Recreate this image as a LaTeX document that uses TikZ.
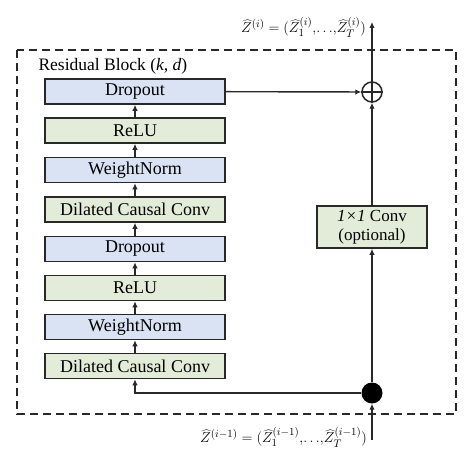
\documentclass[tikz,border=0pt]{standalone}
\usepackage{fontspec}
\setmainfont{Liberation Serif}
\usetikzlibrary{arrows.meta}
\definecolor{bblue}{RGB}{218,227,243}
\definecolor{bgreen}{RGB}{227,236,216}
\definecolor{edge}{RGB}{40,40,40}
\tikzset{
  layer/.style={draw=edge, line width=1.6pt, minimum width=180pt, minimum height=25pt, inner sep=0pt, font=\fontsize{18}{20}\selectfont},
  bluebox/.style={layer, fill=bblue},
  greenbox/.style={layer, fill=bgreen},
  conn/.style={draw=edge, line width=1.4pt, -{Latex[length=6pt,width=5.5pt]}},
  mathlab/.style={anchor=east, font=\fontsize{15.5}{17}\selectfont, inner sep=0pt},
}
\begin{document}
\begin{tikzpicture}[x=1pt,y=-1pt]
\useasboundingbox (0,0) rectangle (474,465);
\draw[edge, line width=1.3pt, dash pattern=on 8pt off 5pt] (17,50) rectangle (456,414);
\node[anchor=west, font=\fontsize{17.5}{20}\selectfont] (title) at (35,66) {Residual Block (\textit{k}, \textit{d})};
\node[bluebox]  (do1) at (135,91.5) {Dropout};
\node[greenbox] (re1) at (135,130.5) {ReLU};
\node[bluebox]  (wn1) at (135,170) {WeightNorm};
\node[greenbox] (dc1) at (135,209.5) {Dilated Causal Conv};
\node[bluebox]  (do2) at (135,249) {Dropout};
\node[greenbox] (re2) at (135,288) {ReLU};
\node[bluebox]  (wn2) at (135,327) {WeightNorm};
\node[greenbox] (dc2) at (135,366) {Dilated Causal Conv};
\node[greenbox, minimum width=110pt, minimum height=42pt, align=center, font=\fontsize{17}{19}\selectfont] (c11) at (372,227) {\textit{1×1} Conv\\(optional)};
\node[circle, draw=edge, line width=1.5pt, minimum size=20pt, inner sep=0pt] (add) at (372,92) {};
\draw[edge, line width=1.5pt] (add.north) -- (add.south) (add.west) -- (add.east);
\node[circle, fill=black, minimum size=21pt, inner sep=0pt] (dot) at (372,393) {};
\coordinate (out) at (372,22);
\coordinate (in) at (372,440);
\coordinate (turn) at (135,393);
\draw[conn] (dc2) -- (wn2);
\draw[conn] (wn2) -- (re2);
\draw[conn] (re2) -- (do2);
\draw[conn] (do2) -- (dc1);
\draw[conn] (dc1) -- (wn1);
\draw[conn] (wn1) -- (re1);
\draw[conn] (re1) -- (do1);
\draw[conn] (do1) -- (add);
\draw[conn] (add) -- (out);
\draw[conn] (dot) -- (c11);
\draw[conn] (c11) -- (add);
\draw[conn] (in) -- (dot);
\draw[conn] (dot) -- (turn) -- (dc2);
\node[mathlab] (toplab) at (366,27) {$\widehat{Z}^{(i)}=(\widehat{Z}^{(i)}_1{,}{\ldots}{,}\widehat{Z}^{(i)}_T)$};
\node[mathlab] (botlab) at (367,437) {$\widehat{Z}^{(i-1)}=(\widehat{Z}^{(i-1)}_1{,}{\ldots}{,}\widehat{Z}^{(i-1)}_T)$};
\end{tikzpicture}
\end{document}
